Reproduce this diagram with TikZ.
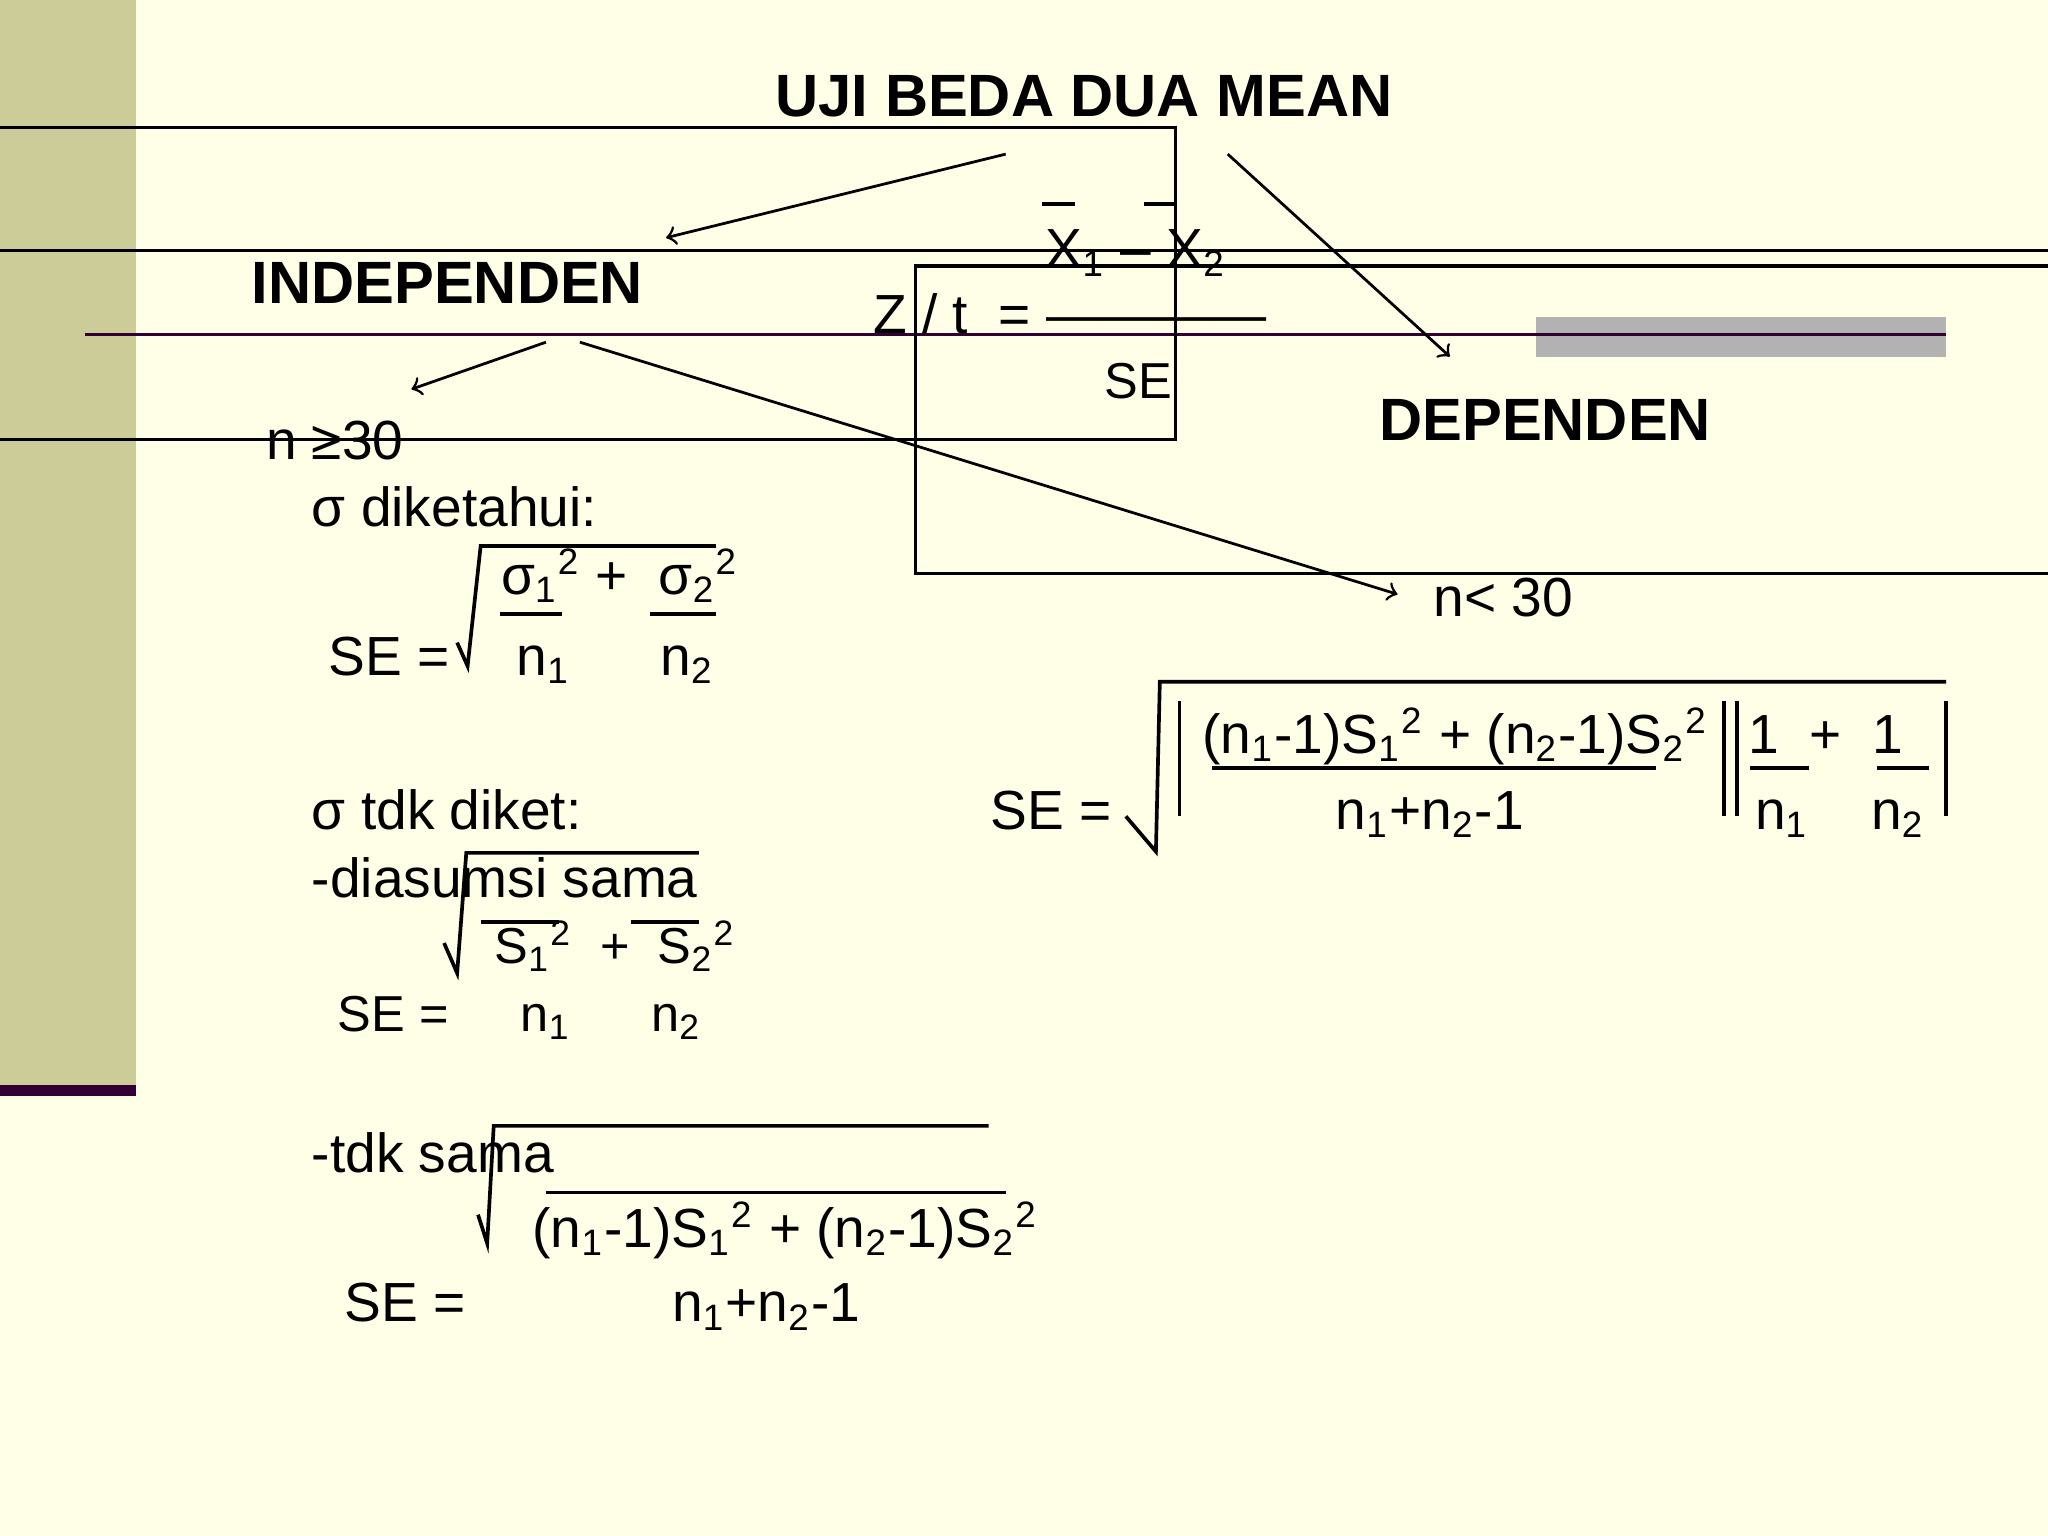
\documentclass[tikz,border=0pt]{standalone}
\usepackage{fontspec}
\setmainfont{Liberation Sans}
\begin{document}
\begin{tikzpicture}[x=0.01cm,y=-0.01cm,
  t/.style={anchor=base west,inner sep=0pt,font=\fontsize{12}{14}\selectfont},
  ts/.style={anchor=base west,inner sep=0pt,font=\fontsize{11}{13}\selectfont},
  bx/.style={draw,line width=0.7pt,inner sep=0pt,font=\bfseries\fontsize{13}{15}\selectfont},
  ln/.style={line width=0.8pt},
  arr/.style={->,line width=0.6pt,>=to}]
\definecolor{bg}{HTML}{FFFFE8}
\definecolor{olive}{HTML}{CCCC99}
\definecolor{dpurp}{HTML}{330033}
\fill[bg] (0,0) rectangle (1568,1176);
\useasboundingbox (0,0) rectangle (1568,1176);
\fill[olive] (0,0) rectangle (104,835);
\fill[dpurp] (0,831) rectangle (104,839);
\fill[gray!60] (1176,243) rectangle (1490,273);
\draw[dpurp,line width=0.8pt] (65,256) -- (1490,256);
% boxes
\node[bx,minimum width=482,minimum height=67] (title) at (830,74) {UJI BEDA DUA MEAN};
\node[bx,minimum width=317,minimum height=68] (ind) at (342.5,217) {INDEPENDEN};
\node[bx,minimum width=274,minimum height=67] (dep) at (1183,321.5) {DEPENDEN};
% connectors
\coordinate (a1) at (770,118); \coordinate (a1e) at (510,182);
\coordinate (a2) at (940,118); \coordinate (a2e) at (1110,273);
\coordinate (a3) at (418,262); \coordinate (a3e) at (315,298);
\coordinate (a4) at (444,262); \coordinate (a4e) at (1070,455);
\draw[arr] (a1) -- (a1e);
\draw[arr] (a2) -- (a2e);
\draw[arr] (a3) -- (a3e);
\draw[arr] (a4) -- (a4e);
% top formula
\node[t] (x12) at (800,205) {X\textsubscript{1} – X\textsubscript{2}};
\draw[ln] (798,156) -- (823,156); \draw[ln] (876,156) -- (901,156);
\node[t] (zt) at (668,255) {Z / t\ \ = ------------};
\node[ts] (sez) at (845,305) {SE};
% left block
\node[t] (n30) at (203,352) {n ≥30};
\node[t] (sdk) at (238,403) {σ diketahui:};
\node[t] (s12) at (383,455) {σ\textsubscript{1}\textsuperscript{2} +\ \ σ\textsubscript{2}\textsuperscript{2}};
\draw[ln] (383,470) -- (430,470); \draw[ln] (498,470) -- (548,470);
\node[t] (se1) at (251,517) {SE =};
\node[t] (n1a) at (395,517) {n\textsubscript{1}};
\node[t] (n2a) at (505,517) {n\textsubscript{2}};
\draw[ln] (350,492) -- (358,510) -- (368,418) -- (548,418);
\node[t] (stk) at (238,635) {σ tdk diket:};
\node[t] (das) at (238,687) {-diasumsi sama};
\draw[ln] (340,722) -- (350,745) -- (357,653) -- (535,653);
\node[ts] (s12b) at (378,738) {S\textsubscript{1}\textsuperscript{2}\ \ +\ \ S\textsubscript{2}\textsuperscript{2}};
\draw[ln] (368,706) -- (428,706); \draw[ln] (483,706) -- (535,706);
\node[ts] (se2) at (258,790) {SE =};
\node[ts] (n1b) at (398,790) {n\textsubscript{1}};
\node[ts] (n2b) at (498,790) {n\textsubscript{2}};
\node[t] (tds) at (238,898) {-tdk sama};
\draw[ln] (366,930) -- (373,952) -- (378,862) -- (757,862);
\draw[ln] (418,913) -- (770,913);
\node[t] (num1) at (407,955) {(n\textsubscript{1}-1)S\textsubscript{1}\textsuperscript{2} + (n\textsubscript{2}-1)S\textsubscript{2}\textsuperscript{2}};
\node[t] (se3) at (263,1012) {SE =};
\node[t] (den1) at (514,1012) {n\textsubscript{1}+n\textsubscript{2}-1};
% right block
\node[t] (nl30) at (1097,472) {n< 30};
\node[t] (se4) at (758,635) {SE =};
\draw[ln] (862,625) -- (885,652) -- (888,522) -- (1490,522);
\draw[ln] (903,537) -- (903,625);
\draw[ln] (1320,537) -- (1320,625); \draw[ln] (1330,537) -- (1330,625);
\draw[ln] (1490,537) -- (1490,625);
\node[t] (num2) at (920,577) {(n\textsubscript{1}-1)S\textsubscript{1}\textsuperscript{2} + (n\textsubscript{2}-1)S\textsubscript{2}\textsuperscript{2}};
\draw[ln] (928,588) -- (1268,588);
\node[t] (den2) at (1022,635) {n\textsubscript{1}+n\textsubscript{2}-1};
\node[t] (one) at (1338,577) {1\ \ +\ \ 1};
\draw[ln] (1340,588) -- (1385,588); \draw[ln] (1437,588) -- (1477,588);
\node[t] (n1c) at (1343,635) {n\textsubscript{1}};
\node[t] (n2c) at (1432,635) {n\textsubscript{2}};
\end{tikzpicture}
\end{document}
